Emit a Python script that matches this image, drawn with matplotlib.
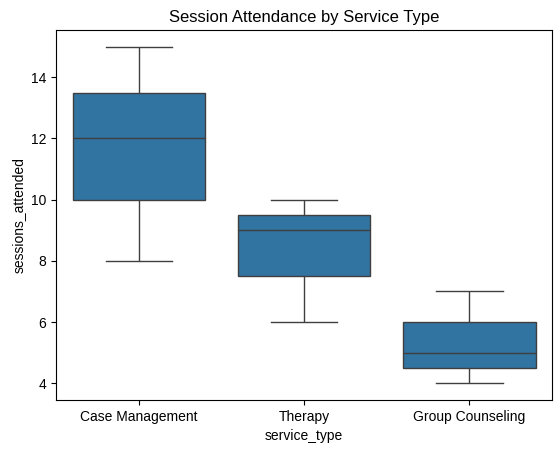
import numpy as np
import pandas as pd
import matplotlib
matplotlib.use("Agg")
import matplotlib.pyplot as plt
import seaborn as sns

plt.rcParams['font.family'] = ['Liberation Sans', 'DejaVu Sans']

# sessions per client, grouped by service type
case_management = [8, 10, 10, 12, 13, 14, 15]
therapy = [6, 7, 8, 9, 9, 10, 10]
group_counseling = [4, 4, 5, 5, 6, 6, 7]
service_types = ['Case Management', 'Therapy', 'Group Counseling']

df = pd.DataFrame({
    'service_type': [service_types[0]] * len(case_management)
                    + [service_types[1]] * len(therapy)
                    + [service_types[2]] * len(group_counseling),
    'sessions_attended': case_management + therapy + group_counseling,
})

fig, ax = plt.subplots(figsize=(5.6, 4.53), dpi=100)
sns.boxplot(data=df, x='service_type', y='sessions_attended',
            order=service_types, ax=ax)
ax.set_title('Session Attendance by Service Type')

plt.subplots_adjust(left=0.1, right=0.986, bottom=0.117, top=0.934)
plt.savefig('out.png')
